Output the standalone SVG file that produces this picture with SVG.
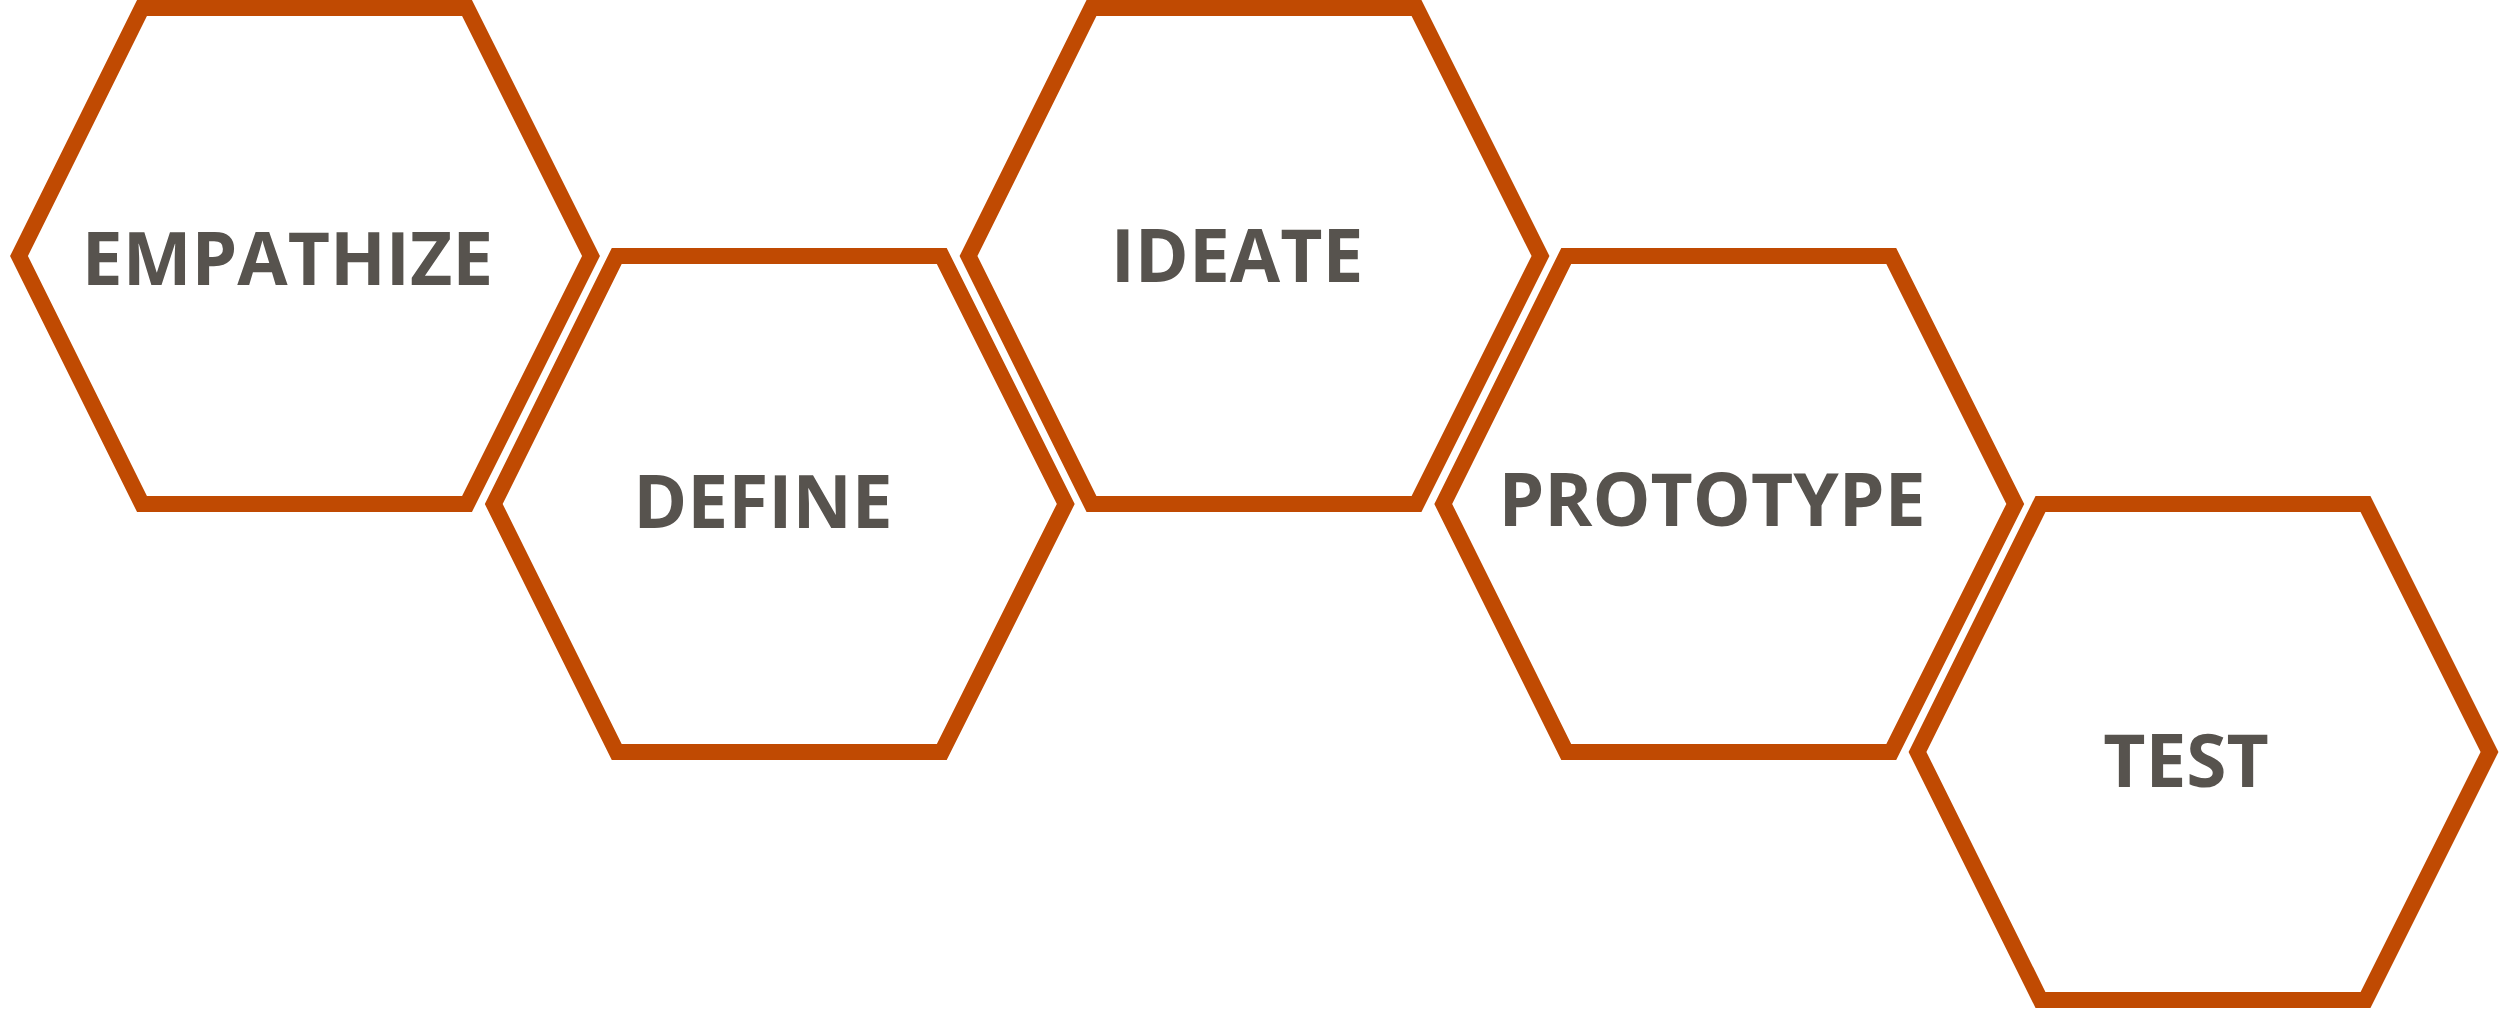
<svg xmlns="http://www.w3.org/2000/svg" width="2500" height="1009" viewBox="0 0 2500 1009">
<defs>
<style>
.hex{fill:#FFFFFF;stroke:#C04A02;stroke-width:16;stroke-linejoin:miter;stroke-miterlimit:10}
.lbl{font-family:"Open Sans","Noto Sans","Liberation Sans",sans-serif;font-weight:700;font-size:73px;fill:#57534E;text-anchor:middle}
</style>
<polygon id="hexshape" points="-286,0 -163,-248 162,-248 286,0 162,248 -163,248"/>
</defs>
<rect width="2500" height="1009" fill="#FFFFFF"/>
<g id="connectors"></g>
<g id="empathize">
<use href="#hexshape" class="hex" transform="translate(305,256)"/>
<text class="lbl" x="287.5" y="285">EMPATHIZE</text>
</g>
<g id="define">
<use href="#hexshape" class="hex" transform="translate(779.75,504)"/>
<text class="lbl" x="763" y="528.3">DEFINE</text>
</g>
<g id="ideate">
<use href="#hexshape" class="hex" transform="translate(1254.5,256)"/>
<text class="lbl" x="1237" y="281.7">IDEATE</text>
</g>
<g id="prototype">
<use href="#hexshape" class="hex" transform="translate(1729.25,504)"/>
<text class="lbl" x="1712" y="526">PROTOTYPE</text>
</g>
<g id="test">
<use href="#hexshape" class="hex" transform="translate(2203.5,752)"/>
<text class="lbl" x="2186" y="787">TEST</text>
</g>
</svg>
